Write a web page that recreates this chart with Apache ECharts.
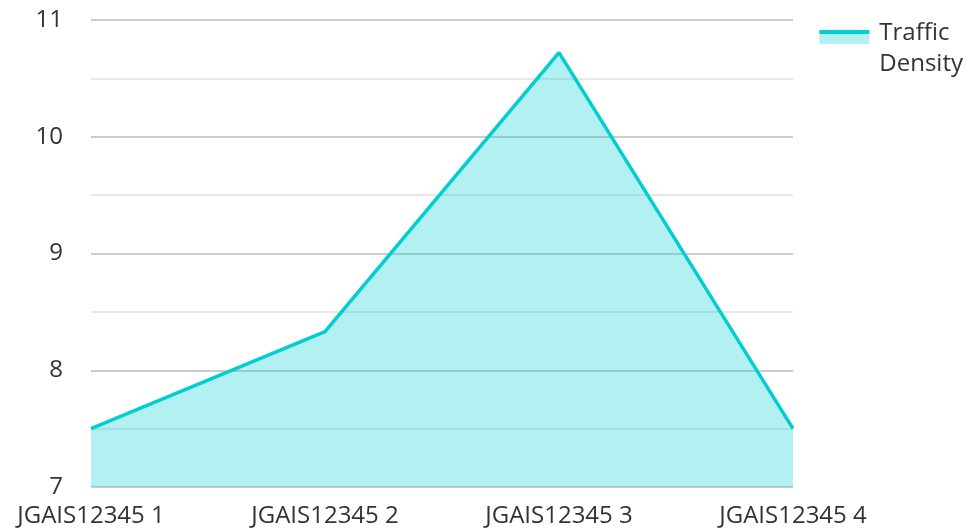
<!DOCTYPE html>
<html>
<head>
<meta charset="utf-8">
<script src="https://cdn.jsdelivr.net/npm/echarts@6/dist/echarts.min.js"></script>
<style>
	html, body { margin: 0; padding: 0; background: #fff; }
	#main { width: 966px; height: 528px; }
</style>
</head>
<body>
<div id="main"></div>
<script>
var categories = ['JGAIS12345 1', 'JGAIS12345 2', 'JGAIS12345 3', 'JGAIS12345 4'];
var density = [7.5, 8.33, 10.72, 7.5];
var seriesName = 'Traffic Density';

var lineColor = '#00ced1';
var areaColor = 'rgba(0,206,209,0.3)';

var myChart = echarts.init(document.getElementById('main'));
var option = {
	textStyle: { fontFamily: 'Open Sans' },
	grid: { left: 91, right: 173, top: 20, bottom: 41 },
	legend: {
		right: 3,
		top: 1,
		padding: 0,
		icon: 'rect',
		itemWidth: 50,
		itemHeight: 14,
		itemStyle: {
			color: new echarts.graphic.LinearGradient(0, 0, 0, 1, [
				{ offset: 0, color: lineColor },
				{ offset: 0.28, color: lineColor },
				{ offset: 0.28, color: areaColor },
				{ offset: 1, color: areaColor }
			])
		},
		formatter: function (name) {
			return '{pad| }\n{t|' + name.split(' ').join('}\n{t|') + '}';
		},
		textStyle: {
			fontSize: 24, color: '#333', fontFamily: 'Open Sans', padding: [0, 0, 0, 5],
			rich: {
				pad: { fontSize: 10, lineHeight: 24 },
				t: { fontSize: 24, color: '#333', fontFamily: 'Open Sans', lineHeight: 31 }
			}
		},
		data: [seriesName]
	},
	xAxis: {
		type: 'category',
		boundaryGap: false,
		data: categories,
		axisLine: { show: false },
		axisTick: { show: false },
		axisLabel: { fontSize: 24, color: '#333', margin: 17 }
	},
	yAxis: {
		type: 'value',
		min: 7,
		max: 11,
		interval: 1,
		axisLine: { show: false },
		axisTick: { show: false },
		axisLabel: { fontSize: 24, color: '#333', margin: 28 },
		splitLine: { lineStyle: { color: '#cccccc', width: 2 } },
		minorTick: { show: false, splitNumber: 2 },
		minorSplitLine: { show: true, lineStyle: { color: '#e8e8e8', width: 2 } }
	},
	series: [{
		name: seriesName,
		type: 'line',
		data: density,
		symbol: 'none',
		lineStyle: { color: lineColor, width: 3.5 },
		itemStyle: { color: lineColor },
		areaStyle: { color: lineColor, opacity: 0.3 }
	}]
};
myChart.setOption(option);
</script>
</body>
</html>
